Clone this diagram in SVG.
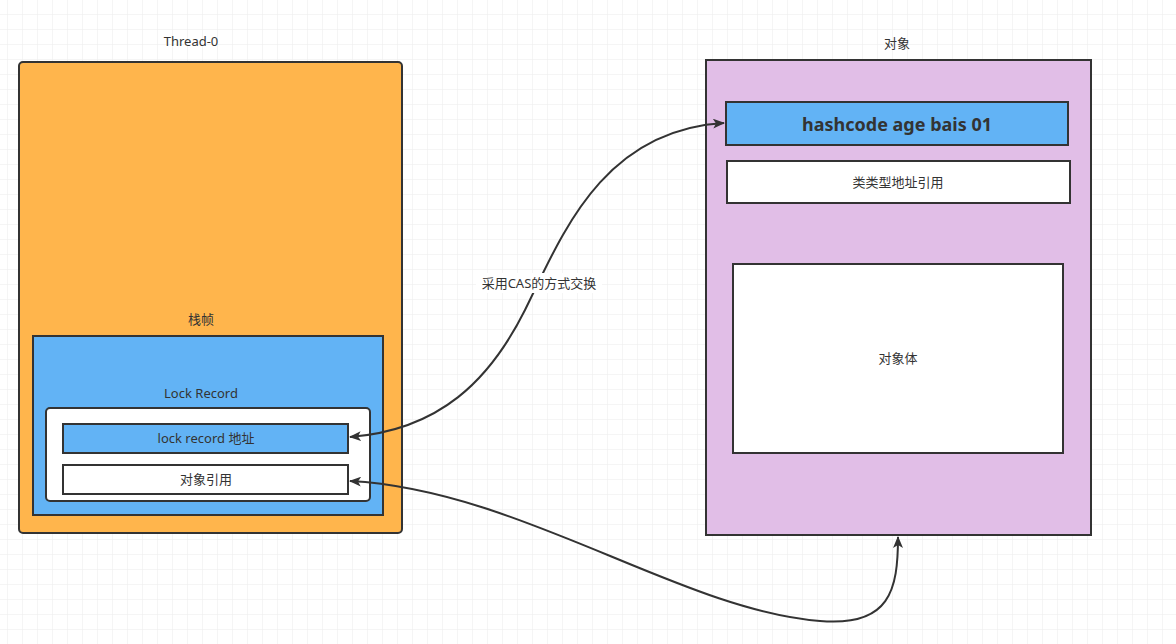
<svg xmlns="http://www.w3.org/2000/svg" width="1176" height="644" viewBox="0 0 1176 644">
<defs>
<pattern id="g" width="15" height="15" patternUnits="userSpaceOnUse" x="7" y="14"><path d="M15 0H0V15" fill="none" stroke="#ebebeb" stroke-width="1"/></pattern>
<marker id="a" viewBox="0 0 12 10" refX="11" refY="5" markerWidth="12" markerHeight="10" orient="auto-start-reverse" markerUnits="userSpaceOnUse"><path d="M0 0L12 5L0 10L3 5Z" fill="#333"/></marker>
<style>
text{font-family:"Noto Sans","Noto Sans CJK SC",sans-serif;font-size:13px;fill:#333;text-anchor:middle}
.b{stroke:#333;stroke-width:2}
.c{fill:none;stroke:#333;stroke-width:2}
</style>
</defs>
<rect width="1176" height="644" fill="#fff"/>
<rect width="1176" height="644" fill="url(#g)"/>
<g id="thread">
<text x="191" y="46">Thread-0</text>
<rect class="b" x="19" y="62" width="383" height="471" rx="4" fill="#ffb54c"/>
</g>
<g id="frame">
<text x="201" y="324">栈帧</text>
<rect class="b" x="33" y="336" width="350" height="179" fill="#62b3f5"/>
<text x="201" y="398">Lock Record</text>
<rect class="b" x="46" y="408" width="324" height="93" rx="4" fill="#fff"/>
</g>
<g id="lockaddr"><rect class="b" x="63" y="424" width="285" height="29" fill="#62b3f5"/><text x="206" y="443">lock record 地址</text></g>
<g id="objref"><rect class="b" x="63" y="465" width="285" height="29" fill="#fff"/><text x="206" y="484">对象引用</text></g>
<g id="obj">
<text x="897" y="48">对象</text>
<rect class="b" x="706" y="60" width="385" height="475" fill="#e1bee7"/>
</g>
<g id="hash"><rect class="b" x="726" y="102" width="342" height="43" fill="#62b3f5"/><text x="897" y="131" style="font-size:18px;font-weight:bold">hashcode age bais 01</text></g>
<g id="klass"><rect class="b" x="727" y="161" width="343" height="42" fill="#fff"/><text x="898" y="187">类类型地址引用</text></g>
<g id="body"><rect class="b" x="733" y="264" width="330" height="189" fill="#fff"/><text x="898" y="363">对象体</text></g>
<g id="connectors">
<path class="c" d="M724 123C600 130 560 240 525 310C490 380 440 430 350 437" marker-start="url(#a)" marker-end="url(#a)"/>
<rect x="476" y="273" width="126" height="20" fill="#fff"/>
<text x="539" y="288">采用CAS的方式交换</text>
<path class="c" d="M350 481C520 490 680 610 820 621C890 627 898 590 898 537" marker-start="url(#a)" marker-end="url(#a)"/>
</g>
</svg>
